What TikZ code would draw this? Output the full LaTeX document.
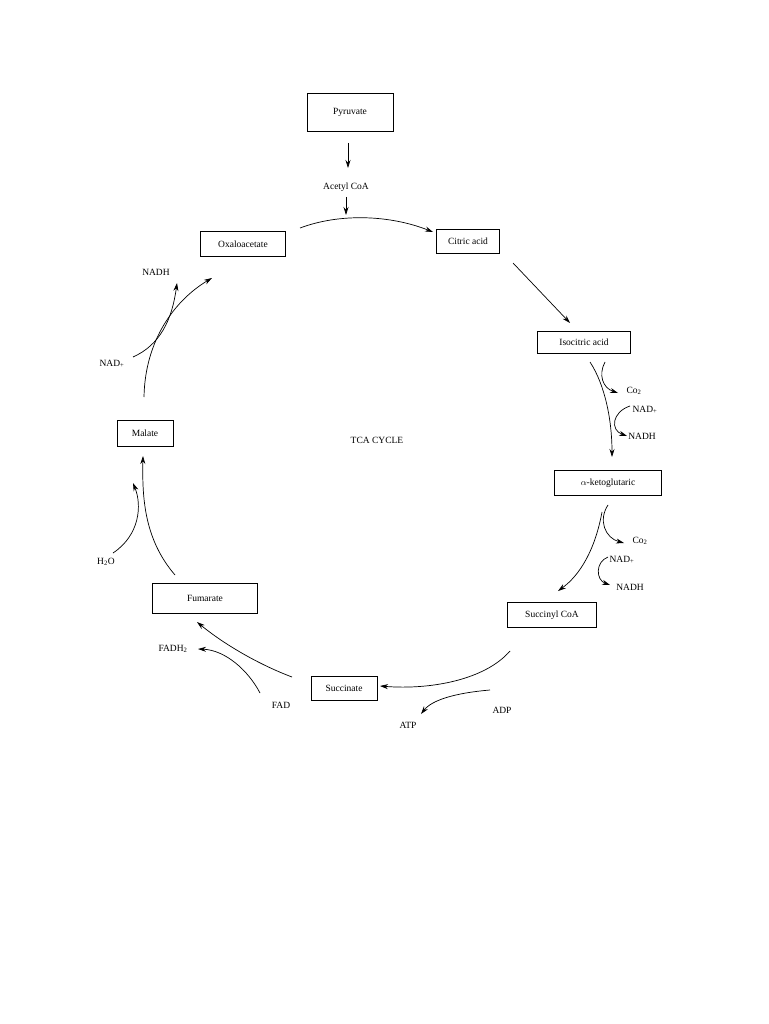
\documentclass[tikz,border=0pt]{standalone}
\usepackage{fontspec}
\setmainfont{Liberation Serif}
\usetikzlibrary{arrows.meta}
\begin{document}
\begin{tikzpicture}[x=1pt,y=-1pt,
  box/.style={draw,line width=0.8pt,inner sep=3pt,font=\fontsize{9.5}{11}\selectfont},
  lbl/.style={inner sep=1pt,font=\fontsize{9.5}{11}\selectfont},
  ar/.style={line width=0.7pt,-{Stealth[length=8pt,width=5pt]}}]
\useasboundingbox (0,0) rectangle (768,1024);
\node[box,minimum width=86pt,minimum height=38pt] (pyr) at (350,112) {Pyruvate};
\node[lbl] (acoa) at (346,187) {Acetyl CoA};
\node[box,minimum width=85pt,minimum height=25pt] (oxa) at (243,244) {Oxaloacetate};
\node[box,minimum width=63pt,minimum height=24pt] (cit) at (468,241) {Citric acid};
\node[box,minimum width=93pt,minimum height=22pt] (iso) at (584,342) {Isocitric acid};
\node[box,minimum width=107pt,minimum height=25pt] (akg) at (608,483) {$\alpha$-ketoglutaric};
\node[box,minimum width=89pt,minimum height=25pt] (suc) at (552,615) {Succinyl CoA};
\node[box,minimum width=66pt,minimum height=24pt] (sccn) at (344,688) {Succinate};
\node[box,minimum width=105pt,minimum height=30pt,text depth=-6pt] (fum) at (205,598) {Fumarate};
\node[box,minimum width=56pt,minimum height=26pt] (mal) at (145,433) {Malate};
\node[lbl] (tca) at (377,440) {TCA CYCLE};
\node[lbl] (nadh1) at (156,272) {NADH};
\node[lbl] (nad1) at (112,364) {NAD\textsubscript{+}};
\node[lbl] (h2o) at (106,562) {H\textsubscript{2}O};
\node[lbl] (fadh) at (173,649) {FADH\textsubscript{2}};
\node[lbl] (fad) at (281,705) {FAD};
\node[lbl] (atp) at (408,725) {ATP};
\node[lbl] (adp) at (502,710) {ADP};
\node[lbl] (co1) at (634,391) {Co\textsubscript{2}};
\node[lbl] (nad2) at (645,410) {NAD\textsubscript{+}};
\node[lbl] (nadh2) at (642,436) {NADH};
\node[lbl] (co2) at (640,541) {Co\textsubscript{2}};
\node[lbl] (nad3) at (622,560) {NAD\textsubscript{+}};
\node[lbl] (nadh3) at (630,587) {NADH};
\coordinate (pa) at (348,143); \coordinate (pb) at (348,168);
\draw[ar] (pa) -- (pb);
\coordinate (aa) at (346,197); \coordinate (ab) at (346,215);
\draw[ar] (aa) -- (ab);
\coordinate (o1) at (300,228); \coordinate (o2) at (433,232);
\draw[ar] (o1) .. controls (340,213) and (390,215) .. (o2);
\coordinate (c1) at (513,263); \coordinate (c2) at (570,323);
\draw[ar] (c1) -- (c2);
\coordinate (i1) at (590,362); \coordinate (i2) at (612,457);
\draw[ar] (i1) .. controls (605,385) and (612,420) .. (i2);
\coordinate (i3) at (605,362); \coordinate (i4) at (618,393);
\draw[ar] (i3) .. controls (598,375) and (603,388) .. (i4);
\coordinate (i5) at (630,406); \coordinate (i6) at (627,436);
\draw[ar] (i5) .. controls (612,412) and (610,430) .. (i6);
\coordinate (k1) at (602,512); \coordinate (k2) at (558,591);
\draw[ar] (k1) .. controls (595,550) and (580,575) .. (k2);
\coordinate (k3) at (608,505); \coordinate (k4) at (624,543);
\draw[ar] (k3) .. controls (598,520) and (605,538) .. (k4);
\coordinate (k5) at (608,557); \coordinate (k6) at (610,585);
\draw[ar] (k5) .. controls (595,562) and (596,580) .. (k6);
\coordinate (s1) at (510,651); \coordinate (s2) at (380,686);
\draw[ar] (s1) .. controls (485,680) and (430,690) .. (s2);
\coordinate (s3) at (490,690); \coordinate (s4) at (421,714);
\draw[ar] (s3) .. controls (455,693) and (432,700) .. (s4);
\coordinate (f1) at (292,677); \coordinate (f2) at (197,622);
\draw[ar] (f1) .. controls (260,665) and (225,645) .. (f2);
\coordinate (f3) at (260,693); \coordinate (f4) at (198,649);
\draw[ar] (f3) .. controls (248,670) and (225,650) .. (f4);
\coordinate (m1) at (175,575); \coordinate (m2) at (143,456);
\draw[ar] (m1) .. controls (145,540) and (142,500) .. (m2);
\coordinate (m3) at (113,553); \coordinate (m4) at (133,483);
\draw[ar] (m3) .. controls (140,535) and (142,505) .. (m4);
\coordinate (n1) at (144,397); \coordinate (n2) at (212,278);
\draw[ar] (n1) .. controls (145,340) and (175,300) .. (n2);
\coordinate (n3) at (133,357); \coordinate (n4) at (177,283);
\draw[ar] (n3) .. controls (160,345) and (172,320) .. (n4);
\end{tikzpicture}
\end{document}
